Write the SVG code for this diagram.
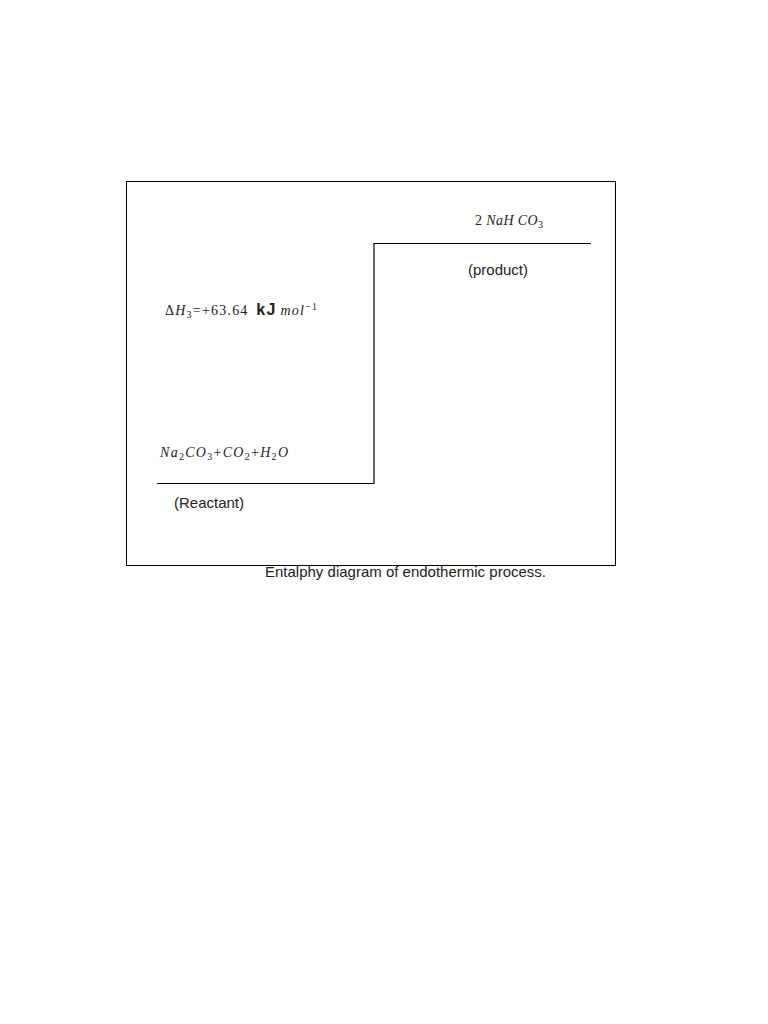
<svg xmlns="http://www.w3.org/2000/svg" width="768" height="1024" viewBox="0 0 768 1024">
<style>
.lbl{font-family:"Liberation Sans",Arial,sans-serif;font-size:15px;fill:#222}
.m{font-family:"Liberation Serif","Times New Roman",serif;font-size:14px;font-style:italic;fill:#222}
.n{font-style:normal}
.ln{fill:none;stroke:#000;stroke-width:1.2}
</style>
<rect width="768" height="1024" fill="#fff"/>
<g id="frame"><rect x="126.5" y="181.5" width="489" height="384" fill="none" stroke="#000" stroke-width="1"/></g>
<g id="connectors"><polyline class="ln" points="157,483.5 374,483.5 374,243.5 591,243.5"/></g>
<g id="product">
<text class="m" x="475" y="225" textLength="68" lengthAdjust="spacing"><tspan class="n">2 </tspan>NaH CO<tspan class="n" font-size="10" dy="3">3</tspan></text>
<text class="lbl" x="468" y="275">(product)</text>
</g>
<g id="deltaH">
<text class="m" x="165" y="315" textLength="152" lengthAdjust="spacing"><tspan class="n">Δ</tspan>H<tspan class="n" font-size="10" dy="3">3</tspan><tspan class="n" dy="-3">=+63.64 </tspan><tspan class="n" font-family="Liberation Sans,Arial,sans-serif" font-weight="bold" font-size="16" dx="3">kJ</tspan><tspan dx="4">mol</tspan><tspan class="n" font-size="10" dy="-5">−1</tspan></text>
</g>
<g id="reactant">
<text class="m" x="160" y="457" textLength="128" lengthAdjust="spacing">Na<tspan class="n" font-size="10" dy="3">2</tspan><tspan dy="-3">CO</tspan><tspan class="n" font-size="10" dy="3">3</tspan><tspan class="n" dy="-3">+</tspan>CO<tspan class="n" font-size="10" dy="3">2</tspan><tspan class="n" dy="-3">+</tspan>H<tspan class="n" font-size="10" dy="3">2</tspan><tspan dy="-3">O</tspan></text>
<text class="lbl" x="174" y="508">(Reactant)</text>
</g>
<g id="caption"><text class="lbl" x="265" y="577">Entalphy diagram of endothermic process.</text></g>
</svg>
